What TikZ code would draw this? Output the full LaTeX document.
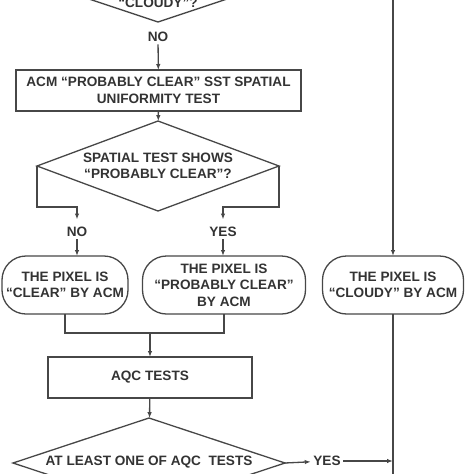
\documentclass[tikz,border=0pt]{standalone}
\usepackage{fontspec}
\setmainfont{Liberation Sans}
\usetikzlibrary{shapes.geometric,arrows.meta}
\begin{document}
\begin{tikzpicture}[x=1pt,y=-1pt,
  line width=1.3pt, draw=black!72, text=black!80,
  font=\fontsize{13.6}{16.5}\selectfont\bfseries,
  >={Latex[length=6pt,width=4.5pt]},
  procbox/.style={draw, rectangle, inner sep=0pt, outer sep=0pt, align=center},
  decision/.style={draw, diamond, inner sep=0pt, outer sep=0pt},
  outcome/.style={draw, rectangle, rounded corners=24pt, minimum height=58pt, inner sep=0pt, outer sep=0pt, align=center},
  answer/.style={inner sep=2pt}]
\useasboundingbox (0,0) rectangle (474,474);
\clip (0,0) rectangle (474,474);
% first test, cut at the top
\node[decision, minimum width=270pt, minimum height=90pt] (cloudy) at (158,-23) {};
\node[inner sep=0pt] (cloudytxt) at (158,3) {“CLOUDY”?};
\node[answer] (no1) at (158,37) {NO};
\node[procbox, minimum width=285pt, minimum height=41pt] (sst) at (158.5,90.5) {ACM “PROBABLY CLEAR” SST SPATIAL\\UNIFORMITY TEST};
\node[decision, minimum width=242pt, minimum height=90pt] (spatial) at (158,166) {};
\node[inner sep=0pt, align=center] (spatialtxt) at (158,166) {SPATIAL TEST SHOWS\\“PROBABLY CLEAR”?};
\node[answer] (no2) at (77,232) {NO};
\node[answer] (yes2) at (223,232) {YES};
\node[outcome, minimum width=126pt] (clear) at (65,285) {THE PIXEL IS\\“CLEAR” BY ACM};
\node[outcome, minimum width=163pt] (pclear) at (224,285) {THE PIXEL IS\\“PROBABLY CLEAR”\\BY ACM};
\node[outcome, minimum width=141pt] (cloudyacm) at (393,285) {THE PIXEL IS\\“CLOUDY” BY ACM};
\node[procbox, minimum width=204pt, minimum height=41pt] (aqc) at (150,377.5) {AQC TESTS};
\node[decision, minimum width=272pt, minimum height=90pt] (aqcdec) at (149,463) {};
\node[inner sep=0pt] (aqctxt) at (149,462) {AT LEAST ONE OF AQC\ \ TESTS};
\node[answer] (yes3) at (327,461) {YES};
\coordinate (lturn) at (77,207);
\coordinate (rturn) at (223,207);
\coordinate (join) at (150,333);
\coordinate (rtop) at (393,-5);
\coordinate (rbot) at (393,480);
% connectors
\draw[->] (no1) -- (sst);
\draw[->] (sst) -- (spatial);
\draw[->, shorten >=5pt] (spatial.west) |- (lturn) -- (no2);
\draw[->, shorten >=5pt] (spatial.east) |- (rturn) -- (yes2);
\draw[->] (no2) -- (no2 |- clear.north);
\draw[->] (yes2) -- (yes2 |- pclear.north);
\draw[->] (rtop) -- (cloudyacm);
\draw (cloudyacm) -- (rbot);
\draw (clear) |- (pclear.south |- join) -- (pclear);
\draw[->] (join) -- (aqc);
\draw[->] (aqc) -- (aqcdec);
\draw[->] (aqcdec.east) -- (yes3);
\draw[->] (yes3) -- (yes3 -| cloudyacm);
\end{tikzpicture}
\end{document}
